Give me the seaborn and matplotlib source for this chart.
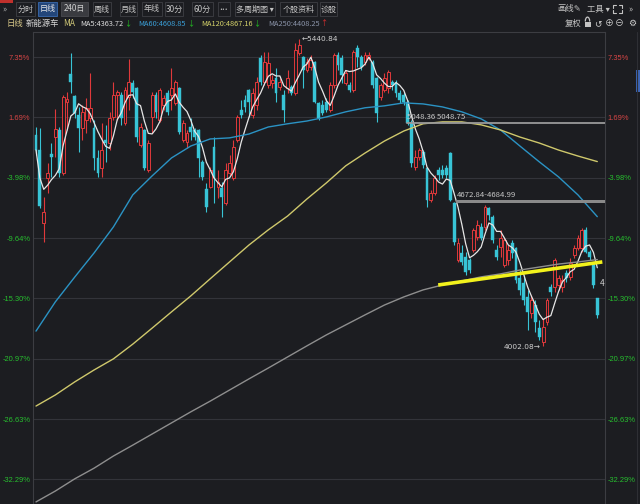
import numpy as np
import pandas as pd
import matplotlib
matplotlib.use("Agg")
import matplotlib.pyplot as plt
from matplotlib.patches import Rectangle, Arc
import seaborn as sns

# ---------------- data ----------------
opens = [4992, 4921, 4580, 4791, 4902, 4982, 5015, 4814, 5147, 5277, 5174, 5086, 5025, 5062, 5072, 5025, 4884, 4838, 4968, 4954,
         5076, 5179, 5179, 5048, 5169, 5235, 5212, 4945, 5015, 4828, 5076, 5179, 5062, 5133, 5188, 5179, 5142, 5212, 4968, 4959,
         5029, 5015,
         5015, 4866, 4739, 4748, 4935, 4748, 4744, 4673, 4814, 4791, 4968, 5109, 5156, 5202, 5086, 5133, 5353, 5240, 5226, 5235,
         5259, 5216, 5179, 5212, 5216, 5188, 5376, 5357, 5296, 5310, 5334, 5142, 5133, 5147, 5109, 5226, 5367, 5353, 5235, 5226,
         5202, 5400, 5357, 5334, 5353, 5334, 5259, 5169, 5202, 5212, 5240, 5235, 5188, 5179, 5147, 5048,
         4842, 4888, 4912, 4838, 4687, 4720, 4828, 4828, 4838, 4907,
         4673, 4406, 4439, 4420, 4406, 4453, 4514, 4561, 4561, 4650, 4607, 4453, 4467, 4383, 4406, 4486, 4462, 4322,
         4299, 4233, 4158, 4195, 4088, 4022, 4116, 4280, 4280, 4289, 4280, 4345, 4327, 4430, 4462, 4462, 4547, 4444, 4392, 4228]
highs = [5029, 5025, 4701, 4861, 4954, 5114, 5029, 5179, 5193, 5376, 5179, 5123, 5133, 5165, 5282, 5062, 4921, 5048, 5039, 5100,
         5240, 5202, 5193, 5216, 5348, 5249, 5216, 5048, 5020, 4968, 5193, 5193, 5212, 5179, 5202, 5306, 5249, 5216, 5062, 5015,
         5072, 5025,
         5020, 4875, 4767, 4842, 4982, 4828, 4772, 4861, 4898, 4968, 5086, 5156, 5179, 5207, 5212, 5263, 5367, 5381, 5381, 5273,
         5306, 5259, 5202, 5296, 5226, 5423, 5440.84, 5362, 5353, 5367, 5339, 5147, 5156, 5165, 5240, 5376, 5381, 5367, 5296, 5240,
         5390, 5414, 5367, 5381, 5381, 5343, 5263, 5235, 5282, 5296, 5249, 5249, 5202, 5193, 5156, 5062,
         4921, 4931, 4921, 4842, 4734, 4805, 4842, 4852, 4852, 4912,
         4678, 4509, 4477, 4444, 4416, 4556, 4594, 4580, 4664, 4654, 4617, 4477, 4547, 4509, 4477, 4500, 4467, 4359,
         4336, 4266, 4242, 4219, 4125, 4135, 4228, 4294, 4416, 4336, 4336, 4359, 4416, 4477, 4523, 4556, 4561, 4453, 4397, 4228]
lows = [4898, 4650, 4491, 4720, 4795, 4888, 4795, 4805, 5015, 5188, 5072, 4912, 4968, 5001, 5053, 4828, 4795, 4795, 4866, 4921,
        5062, 5062, 5039, 5039, 5109, 5165, 4959, 4935, 4828, 4819, 5001, 5072, 5053, 5109, 5086, 5109, 5133, 4996, 4959, 4931,
        4968, 4968,
        4795, 4781, 4631, 4744, 4673, 4697, 4607, 4664, 4805, 4781, 4959, 5072, 5100, 5076, 5072, 5109, 5226, 5226, 5212, 5212,
        5147, 5202, 5053, 5188, 5179, 5179, 5367, 5212, 5287, 5296, 5142, 5062, 5086, 5100, 5100, 5212, 5296, 5235, 5226, 5193,
        5193, 5310, 5296, 5320, 5343, 5212, 5053, 5156, 5193, 5188, 5202, 5169, 5142, 5133, 5039, 4842,
        4828, 4875, 4838, 4654, 4678, 4711, 4781, 4791, 4791, 4682,
        4477, 4397, 4383, 4336, 4345, 4444, 4500, 4500, 4547, 4594, 4486, 4406, 4420, 4373, 4383, 4416, 4299, 4242,
        4195, 4078, 4135, 4069, 4031, 4002.08, 4102, 4238, 4256, 4266, 4256, 4303, 4313, 4416, 4453, 4444, 4439, 4406, 4275, 4135]
closes = [4921, 4659, 4631, 4814, 4888, 5020, 4814, 5169, 5160, 5240, 5095, 5025, 5100, 5119, 5119, 4884, 4814, 4921, 4954, 5072,
          5179, 5193, 5072, 5202, 5240, 5193, 4982, 5029, 4838, 4954, 5179, 5100, 5202, 5165, 5100, 5212, 5240, 5006, 5048, 5001,
          5006, 4982,
          4884, 4795, 4654, 4828, 4791, 4772, 4701, 4828, 4861, 4935, 5076, 5086, 5123, 5147, 5188, 5240, 5240, 5334, 5329, 5249,
          5188, 5240, 5109, 5259, 5188, 5390, 5414, 5296, 5334, 5343, 5147, 5072, 5095, 5109, 5226, 5367, 5320, 5273, 5282, 5202,
          5381, 5357, 5310, 5367, 5367, 5226, 5095, 5226, 5259, 5287, 5226, 5188, 5156, 5147, 5048, 4861,
          4888, 4921, 4852, 4687, 4720, 4791, 4805, 4805, 4805, 4687,
          4491, 4486, 4397, 4350, 4359, 4547, 4570, 4509, 4654, 4617, 4500, 4420, 4509, 4500, 4453, 4439, 4313, 4266,
          4219, 4163, 4219, 4116, 4045, 4092, 4219, 4256, 4406, 4322, 4313, 4322, 4392, 4462, 4509, 4547, 4444, 4420, 4289, 4149]

# long moving averages sampled every 5 sessions
ma_idx = list(range(0, 146, 5))
ma60 = [4073, 4210, 4326, 4439, 4561, 4711, 4800, 4884, 4940, 4973, 4978, 4996, 5029, 5044, 5057,
        5076, 5100, 5119, 5128, 5142, 5137, 5123, 5100, 5067, 5015, 4940, 4866, 4795, 4711, 4609]
ma120 = [3722, 3774, 3835, 3891, 3943, 4012, 4087, 4163, 4238, 4318, 4397, 4476, 4547, 4612, 4692,
         4767, 4847, 4907, 4963, 5010, 5044, 5053, 5053, 5039, 5015, 4982, 4954, 4921, 4893, 4867]
ma250 = [3273, 3324, 3381, 3431, 3488, 3539, 3591, 3643, 3695, 3745, 3797, 3849, 3900, 3952, 4004,
         4055, 4102, 4149, 4195, 4233, 4266, 4289, 4308, 4327, 4341, 4359, 4373, 4387, 4397, 4408]

# percent axis
pct_base = 4990
tick_pcts = [7.35, 1.69, -3.98, -9.64, -15.30, -20.97, -26.63, -32.29]
tick_labels = ["7.35%", "1.69%", "-3.98%", "-9.64%", "-15.30%", "-20.97%", "-26.63%", "-32.29%"]

# drawn objects
trend_x = [103.9, 146.3]
trend_y = [4289, 4397]
band1 = (5048.36, 5048.75)
band2 = (4672.84, 4684.99)
peak_label = "5440.84"
low_label = "4002.08"

legend_items = [("MA5:4363.72", "↓"), ("MA60:4608.85", "↓"), ("MA120:4867.16", "↓"), ("MA250:4408.25", "↑")]

# ---------------- style ----------------
BG = "#1c1d21"
GRID = "#33343a"
UP = "#e0393b"
DOWN = "#38c4d6"
FONT = ["Noto Sans CJK SC", "DejaVu Sans"]

sns.set_style("dark")
plt.rcParams["font.family"] = FONT
plt.rcParams["axes.unicode_minus"] = False

W, H = 640, 504
fig = plt.figure(figsize=(6.4, 5.04), dpi=100, facecolor=BG)


def fx(x):
    return x / W


def fy(y):
    return 1 - y / H


ax = fig.add_axes([fx(33), 0, (605 - 33) / W, (504 - 32) / H])
ax.set_facecolor(BG)

n = len(closes)
idx = np.arange(n)
o = np.array(opens, float)
c = np.array(closes, float)
h = np.array(highs, float)
l = np.array(lows, float)
up = c >= o

ax.set_xlim(-0.775, 146.99)
ax.set_ylim(3263.2, 5473.9)

# grid
tick_prices = [pct_base * (1 + p / 100) for p in tick_pcts]
for tp in tick_prices:
    ax.axhline(tp, color=GRID, lw=0.8, zorder=0)

# wicks
ax.vlines(idx[up], l[up], h[up], color=UP, lw=0.8, zorder=2)
ax.vlines(idx[~up], l[~up], h[~up], color=DOWN, lw=0.8, zorder=2)
# bodies
bw = 0.74
ax.bar(idx[~up], np.maximum(o[~up] - c[~up], 3), bottom=c[~up], width=bw,
       color=DOWN, edgecolor=DOWN, lw=0.3, zorder=3)
ax.bar(idx[up], np.maximum(c[up] - o[up], 3), bottom=o[up], width=bw,
       facecolor=BG, edgecolor=UP, lw=0.7, zorder=3)

# moving averages
ma5 = pd.Series(c).rolling(5, min_periods=1).mean()
sns.lineplot(x=idx, y=ma5.values, ax=ax, color="#e6e6e6", lw=0.9, zorder=4)
sns.lineplot(x=ma_idx, y=ma60, ax=ax, color="#2b93c4", lw=1.0, zorder=4)
sns.lineplot(x=ma_idx, y=ma120, ax=ax, color="#cfc86c", lw=1.0, zorder=4)
sns.lineplot(x=ma_idx, y=ma250, ax=ax, color="#8e8e8e", lw=1.0, zorder=4)

# drawn trend line
ax.plot(trend_x, trend_y, color="#f2f21c", lw=2.6, solid_capstyle="butt", zorder=5)

# price bands
ax.plot([95.8, 146.99], [sum(band1) / 2] * 2, color="#9a9a9a", lw=1.3, zorder=5)
ax.fill_between([108.5, 146.99], band2[0], band2[1], color="#8a8a8a", lw=0, zorder=5)
ax.text(95.8, band1[1] + 8, f"{band1[0]:.2f} {band1[1]:.2f}", color="#c8c8c8", fontsize=5.6,
        ha="left", va="bottom", family=FONT, zorder=6)
ax.text(108.6, band2[1] + 8, f"{band2[0]:.2f}-{band2[1]:.2f}", color="#c8c8c8", fontsize=5.6,
        ha="left", va="bottom", family=FONT, zorder=6)

# extreme labels
imax = int(np.argmax(h))
imin = int(np.argmin(l))
ax.text(imax + 0.6, h[imax], "←" + peak_label, color="#d0d0d0", fontsize=5.3, ha="left", va="center",
        family=["DejaVu Sans"], zorder=6)
ax.text(imin - 0.6, l[imin] - 5, low_label + "→", color="#d0d0d0", fontsize=5.3, ha="right", va="center",
        family=["DejaVu Sans"], zorder=6)
ax.text(146.2, 4294, "4", color="#d0d0d0", fontsize=6, ha="center", va="center", family=FONT, zorder=6)

# axes / ticks
ax.set_xticks([])
ax.set_yticks(tick_prices)
ax.set_yticklabels(tick_labels)
ax.tick_params(axis="y", length=0, labelleft=True, labelright=True, labelsize=5.4, pad=2.0)
for tk, p in zip(ax.yaxis.get_major_ticks(), tick_pcts):
    col = "#d84646" if p > 0 else "#27c02f"
    for lab in (tk.label1, tk.label2):
        lab.set_color(col)
        lab.set_fontfamily(["Liberation Sans", "DejaVu Sans"])
ax.grid(False)
for side in ("left", "right", "top"):
    ax.spines[side].set_color("#3c3d42")
    ax.spines[side].set_linewidth(0.8)
ax.spines["bottom"].set_visible(False)
ax.set_xlabel("")
ax.set_ylabel("")


# ---------------- toolbar ----------------
def box(x0, x1, y0, y1, fc, ec, lw=0.6):
    fig.patches.append(Rectangle((fx(x0), fy(y1)), fx(x1) - fx(x0), fy(y0) - fy(y1),
                                 transform=fig.transFigure, facecolor=fc, edgecolor=ec, lw=lw))


def ftext(x, y, s, color, ha="left", size=6, family=None):
    return fig.text(fx(x), fy(y), s, color=color, ha=ha, va="center", fontsize=size,
                    family=family or FONT)


def fline(xs, ys, color="#c4c4c4", lw=0.8):
    fig.add_artist(plt.Line2D([fx(v) for v in xs], [fy(v) for v in ys],
                              transform=fig.transFigure, color=color, lw=lw))


box(0, 13, 0, 3, "#c0302c", "none", 0)
box(636, 640, 70, 92, "#3b64b5", "none", 0)
fline([637, 637], [32, 504], color="#2e2f34")

ftext(2, 9, "»", "#b0b0b0", size=6)
buttons = [("分时", 16, 35), ("日线", 38, 57), ("240日", 61, 88), ("周线", 93, 111), ("月线", 120, 137),
           ("年线", 142, 162), ("30分", 165, 183), ("60分", 192, 213), ("···", 218, 230),
           ("多周期图 ▾", 235, 275), ("个股资料", 280, 317), ("诊股", 320, 337)]
for lab, x0, x1 in buttons:
    if lab == "日线":
        fc, ec, tc = "#23467a", "#3a6bb0", "#e6e6e6"
    elif lab == "240日":
        fc, ec, tc = "#3a3b40", "#4a4b50", "#cfcfcf"
    else:
        fc, ec, tc = BG, "#3e3f44", "#c4c4c4"
    box(x0, x1, 2, 16, fc, ec)
    if lab == "···":
        ftext((x0 + x1) / 2, 9, "•••", tc, ha="center", size=3.5, family=["DejaVu Sans"])
    else:
        ftext((x0 + x1) / 2, 9, lab, tc, ha="center", size=5.8)

ftext(557, 9, "画线✎", "#c4c4c4", size=6)
ftext(587, 9, "工具 ▾", "#c4c4c4", size=6)
# full-screen icon (four corners)
for (cx, cy, dx, dy) in [(613, 5, 1, 1), (622, 5, -1, 1), (613, 13, 1, -1), (622, 13, -1, -1)]:
    fline([cx + 3 * dx, cx, cx], [cy, cy, cy + 3 * dy])
ftext(628, 9, "»", "#c4c4c4", size=6)

ftext(7, 23.5, "日线", "#d8c888")
ftext(26, 23.5, "新能源车", "#d6d6d6")
ftext(63, 23.5, "MA", "#d0c878")
renderer = fig.canvas.get_renderer()
leg_x = [80, 132, 188, 248]
leg_col = ["#dcdcdc", "#3a9ed6", "#d4d26a", "#8a93a8"]
cursor = 0
for (txt, arr), x0, col in zip(legend_items, leg_x, leg_col):
    xs = max(x0, cursor + 7)
    t = ftext(xs, 23.5, txt, col, size=5.3)
    bb = t.get_window_extent(renderer)
    acol = "#22c322" if arr == "↓" else "#e03030"
    a = ftext(bb.x1 + 0.8, 23.5, arr, acol, size=5.3)
    cursor = a.get_window_extent(renderer).x1

ftext(565, 23.5, "复权", "#c4c4c4")
# lock icon
box(584.5, 590.5, 22, 27, "#c4c4c4", "none", 0)
fig.patches.append(Arc((fx(587.5), fy(21.5)), fx(4.4), 4.4 / H * 2, theta1=0, theta2=180,
                       transform=fig.transFigure, color="#c4c4c4", lw=0.9))
for xx, s in [(598, "↺"), (609, "⊕"), (619, "⊖"), (632, "⚙")]:
    ftext(xx, 23.5, s, "#d0d0d0", ha="center", size=6.5)

fig.savefig("out.png", dpi=100, facecolor=BG)
